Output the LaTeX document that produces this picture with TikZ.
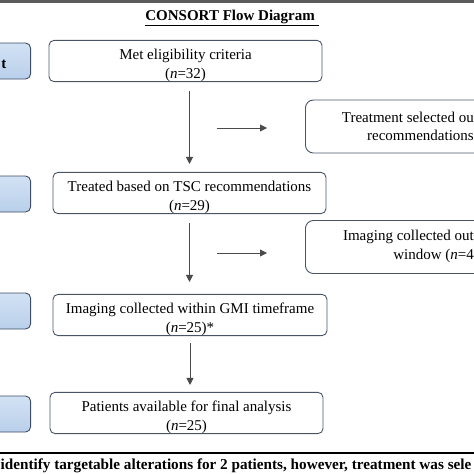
\documentclass[tikz,border=0pt]{standalone}
\usepackage{fontspec}
\setmainfont{Liberation Serif}
\usepackage{xcolor}
\usetikzlibrary{arrows.meta}
\definecolor{boxline}{HTML}{4A5468}
\definecolor{sideline}{HTML}{3E4C66}
\definecolor{sidetop}{HTML}{D2E2F4}
\definecolor{sidebottom}{HTML}{B9CFEA}
\definecolor{arrowgray}{HTML}{4A4A4A}
\definecolor{topgray}{HTML}{5B5B5B}
% two lines in a main box, pushed down a little
\newcommand{\boxlines}[2]{\rule{0pt}{19pt}#1\\#2}

\begin{document}
\begin{tikzpicture}[x=1pt,y=-1pt,
    mainbox/.style={draw=boxline, line width=0.9pt, rounded corners=5pt,
        minimum width=273pt, minimum height=36pt, inner sep=0pt, align=center,
        font=\fontsize{15}{19}\selectfont},
    sidebox/.style={draw=sideline, line width=0.9pt, rounded corners=5pt,
        top color=sidetop, bottom color=sidebottom,
        minimum width=70pt, minimum height=36pt},
    outbox/.style={draw=boxline, line width=0.9pt, rounded corners=8pt,
        minimum width=220pt, minimum height=53pt},
    outtext/.style={inner sep=0pt, align=right, font=\fontsize{15}{18.5}\selectfont},
    flowarrow/.style={draw=arrowgray, line width=0.8pt,
        -{Triangle[length=7pt,width=7pt]}}]

    \useasboundingbox (0,0) rectangle (474,474);
    \clip (0,0) rectangle (474,474);

    % top bar and title
    \fill[topgray] (0,0) rectangle (474,2.5);
    \node[anchor=base, inner sep=0pt, font=\fontsize{15}{18}\selectfont\bfseries] (title)
        at (232,20.5) {\underline{CONSORT Flow Diagram\ }};

    % side labels
    \node[sidebox, anchor=east] (enrol) at (31,61) {};
    \node[anchor=base east, inner sep=0pt, font=\fontsize{15}{18}\selectfont\bfseries] (enroltxt)
        at (6.5,68) {t};
    \node[sidebox, anchor=east] (alloc) at (31,194) {};
    \node[sidebox, anchor=east] (follow) at (31,311) {};
    \node[sidebox, anchor=east] (analysis) at (31,414) {};

    % main column
    \node[mainbox] (met) at (185.5,61) {\boxlines{Met eligibility criteria}{(\textit{n}=32)}};
    \node[mainbox] (tsc) at (189.5,193) {\boxlines{Treated based on TSC recommendations}{(\textit{n}=29)}};
    \node[mainbox, minimum width=274pt] (gmi) at (190,315) {\boxlines{Imaging collected within GMI timeframe}{(\textit{n}=25)*}};
    \node[mainbox] (final) at (186.5,413) {\boxlines{Patients available for final analysis}{(\textit{n}=25)}};

    % excluded
    \node[outbox, anchor=west] (outside) at (305,126.5) {};
    \node[outtext, anchor=east] (outsidetxt) at (474,126.5) {Treatment selected ou\\recommendations};
    \node[outbox, anchor=west] (window) at (305,247) {};
    \node[outtext, anchor=east] (windowtxt) at (474,246.5) {Imaging collected out\\window (\textit{n}=4};

    % arrows down
    \draw[flowarrow, shorten <=9pt, shorten >=8pt] (met.south -| tsc.north) -- (tsc.north);
    \draw[flowarrow, shorten <=9pt, shorten >=12pt] (tsc.south) -- (tsc.south |- gmi.north);
    \draw[flowarrow, shorten <=7pt, shorten >=7pt] (gmi.south) -- (gmi.south |- final.north);

    % arrows right
    \coordinate (split1) at (190,128);
    \draw[flowarrow, shorten <=27pt, shorten >=38pt] (split1) -- (split1 -| outside.west);
    \coordinate (split2) at (190,253);
    \draw[flowarrow, shorten <=27pt, shorten >=38pt] (split2) -- (split2 -| window.west);

    % footnote
    \draw[line width=1.2pt] (0,453) -- (474,453);
    \node[anchor=base west, inner sep=0pt, font=\fontsize{15.2}{18}\selectfont\bfseries] (note)
        at (0.5,469) {identify targetable alterations for 2 patients, however, treatment was sele};
\end{tikzpicture}
\end{document}
